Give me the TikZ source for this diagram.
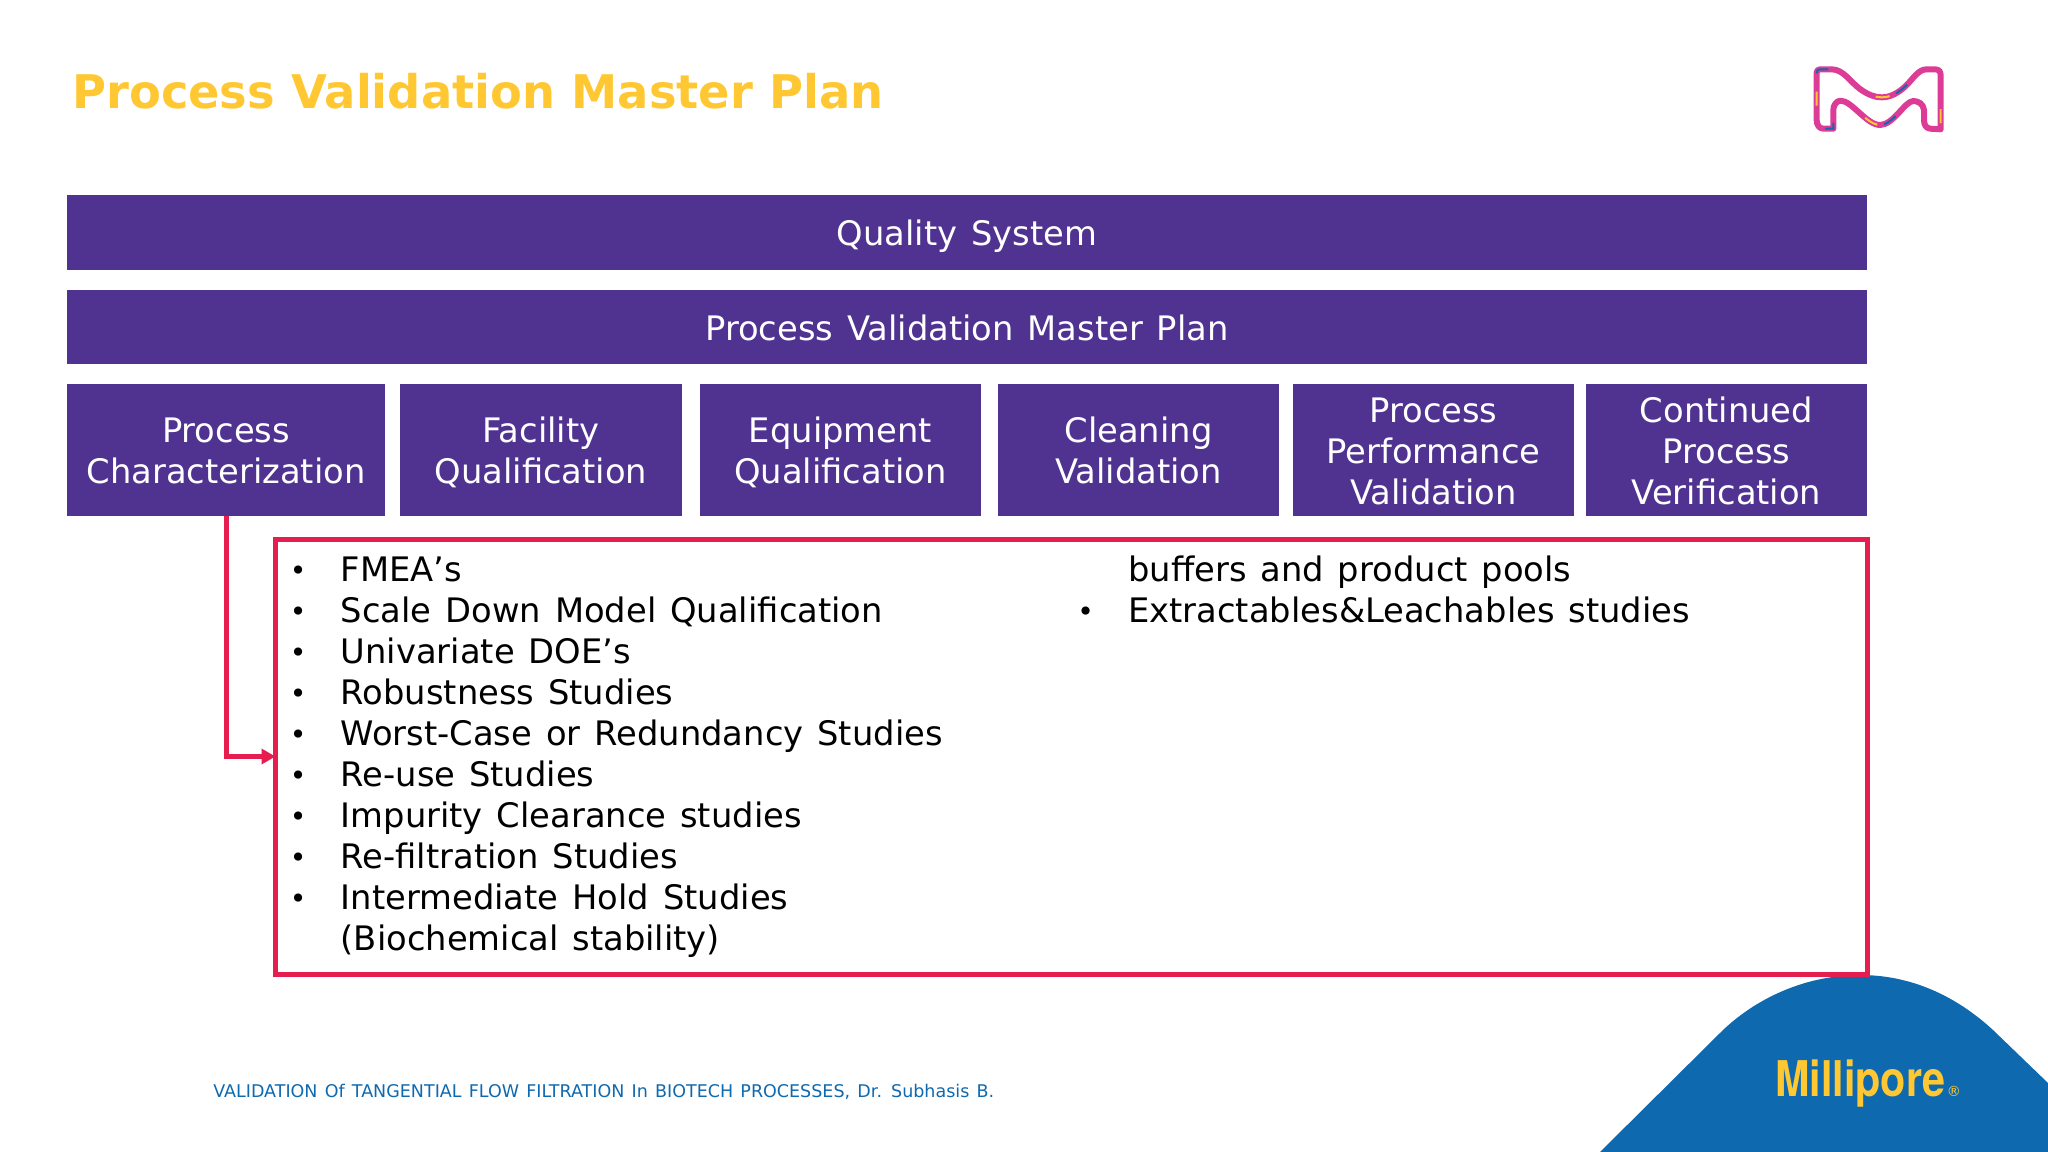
\documentclass[tikz,border=0pt]{standalone}
\usepackage{fontspec}
\setmainfont[WordSpace=1.3]{DejaVu Sans}
\newfontfamily\titlefont{DejaVu Sans}
\newfontfamily\brandfont[FakeStretch=0.84]{TeX Gyre Heros}
\usetikzlibrary{arrows.meta,positioning}
\definecolor{mypurple}{HTML}{503291}
\definecolor{myred}{HTML}{E61E50}
\definecolor{myblue}{HTML}{0F69AF}
\definecolor{myyellow}{HTML}{FFC832}
\definecolor{mypink}{HTML}{DC3C96}
\def\px{0.25mm}
\newcommand{\bul}{\makebox[36.3pt][l]{\raisebox{0.9pt}{\fontsize{20}{20}\selectfont •}}}
\newcommand{\topstrut}{\rule{0pt}{26pt}}
\newcommand{\botstrut}{\rule[-7pt]{0pt}{7pt}}
\tikzset{
  mybox/.style = {rectangle, fill=mypurple, text=white, inner sep=0pt, align=center, font=\fontsize{24}{29.2}\selectfont},
  mylist/.style = {anchor=north west, inner sep=0pt, align=left, text=black, font=\fontsize{24}{29.2}\selectfont},
  myarrow/.style = {-{Triangle[length=14*\px,width=15*\px]}, draw=myred, line width=5*\px, shorten >=-3*\px},
  logoline/.style = {line width=6*\px, line join=round},
  logopath/.style = {insert path={(110,100) .. controls (110,90) and (115,88) .. (125,88) -- (155,88)
    .. controls (190,88) and (210,125) .. (240,147) .. controls (265,165) and (285,172) .. (305,172)
    .. controls (330,172) and (355,160) .. (380,135) .. controls (400,115) and (415,88) .. (440,88)
    -- (465,88) .. controls (478,88) and (482,95) .. (482,108) -- (482,268) -- (450,266)
    .. controls (438,264) and (432,255) .. (432,240) -- (432,210) .. controls (430,192) and (415,183) .. (400,183)
    .. controls (375,183) and (340,255) .. (300,255) .. controls (260,255) and (215,182) .. (182,182)
    .. controls (170,182) and (160,195) .. (160,210) -- (160,266) -- (130,266)
    .. controls (118,266) and (110,255) .. (110,240) -- cycle}},
}
\begin{document}
\begin{tikzpicture}[x=\px,y=-\px]
\useasboundingbox (0,0) rectangle (2048,1152);
% footer shape
\fill[myblue] (1600,1152) -- (1723,1030) .. controls (1760,995) and (1810,975) .. (1860,975)
  .. controls (1910,975) and (1955,995) .. (1993,1030) -- (2048,1083) -- (2048,1152) -- cycle;
\node[text=myyellow, inner sep=0pt, anchor=base west, font=\brandfont\bfseries\fontsize{35}{35}\selectfont] (brand) at (1775,1096) {Millipore};
\node[text=myyellow, inner sep=0pt, font=\fontsize{10}{10}\selectfont] (regmark) at (1954,1091) {®};
\node[text=myblue, inner sep=0pt, anchor=base west, font=\fontsize{12.45}{15}\selectfont] (footer) at (213,1097.5) {VALIDATION Of TANGENTIAL FLOW FILTRATION In BIOTECH PROCESSES, Dr. Subhasis B.};
% title and logo
\node[text=myyellow, inner sep=0pt, anchor=base west, font=\titlefont\bfseries\fontsize{33}{40}\selectfont] (title) at (72,108) {Process Validation Master Plan};
\begin{scope}[shift={(1780,40)}, scale=1/3]
\draw[logoline, mypink, logopath];
\draw[line width=2*\px, myblue, dash pattern=on 10pt off 55pt, logopath];
\draw[line width=2*\px, myyellow, dash pattern=on 10pt off 70pt, dash phase=30pt, logopath];
\end{scope}
% top bars
\node[mybox, minimum width=1800*\px, minimum height=75*\px] (quality) at (967,232.5) {\topstrut Quality System\botstrut};
\node[mybox, minimum width=1800*\px, minimum height=74*\px] (masterplan) at (967,327) {\topstrut Process Validation Master Plan\botstrut};
% six columns
\foreach \name/\cx/\w/\txt in {charbox/226/318/{Process\\Characterization},
    facbox/541/282/{Facility\\Qualification},
    equipbox/840.5/281/{Equipment\\Qualification},
    cleanbox/1138.5/281/{Cleaning\\Validation},
    perfbox/1433.5/281/{Process\\Performance\\Validation},
    verifbox/1726.5/281/{Continued\\Process\\Verification}}
  \node[mybox, minimum width=\w*\px, minimum height=132*\px] (\name) at (\cx,450) {\topstrut\txt\botstrut};
% detail box
\node[draw=myred, line width=5*\px, fill=white, minimum width=1592*\px, minimum height=435*\px, inner sep=0pt] (detail) at (1071,756.5) {};
\draw[myarrow] (charbox.south) |- (detail.west);
\node[mylist] (leftlist) at (289.5,556.5) {\bul FMEA’s\\
\bul Scale Down Model Qualification\\
\bul Univariate DOE’s\\
\bul Robustness Studies\\
\bul Worst-Case or Redundancy Studies\\
\bul Re-use Studies\\
\bul Impurity Clearance studies\\
\bul Re-filtration Studies\\
\bul Intermediate Hold Studies\\
\hspace{36.3pt}(Biochemical stability)};
\node[mylist] (rightlist) at (1077,556) {\hspace{36.3pt}buffers and product pools\\
\bul Extractables\&Leachables studies};
\end{tikzpicture}
\end{document}
